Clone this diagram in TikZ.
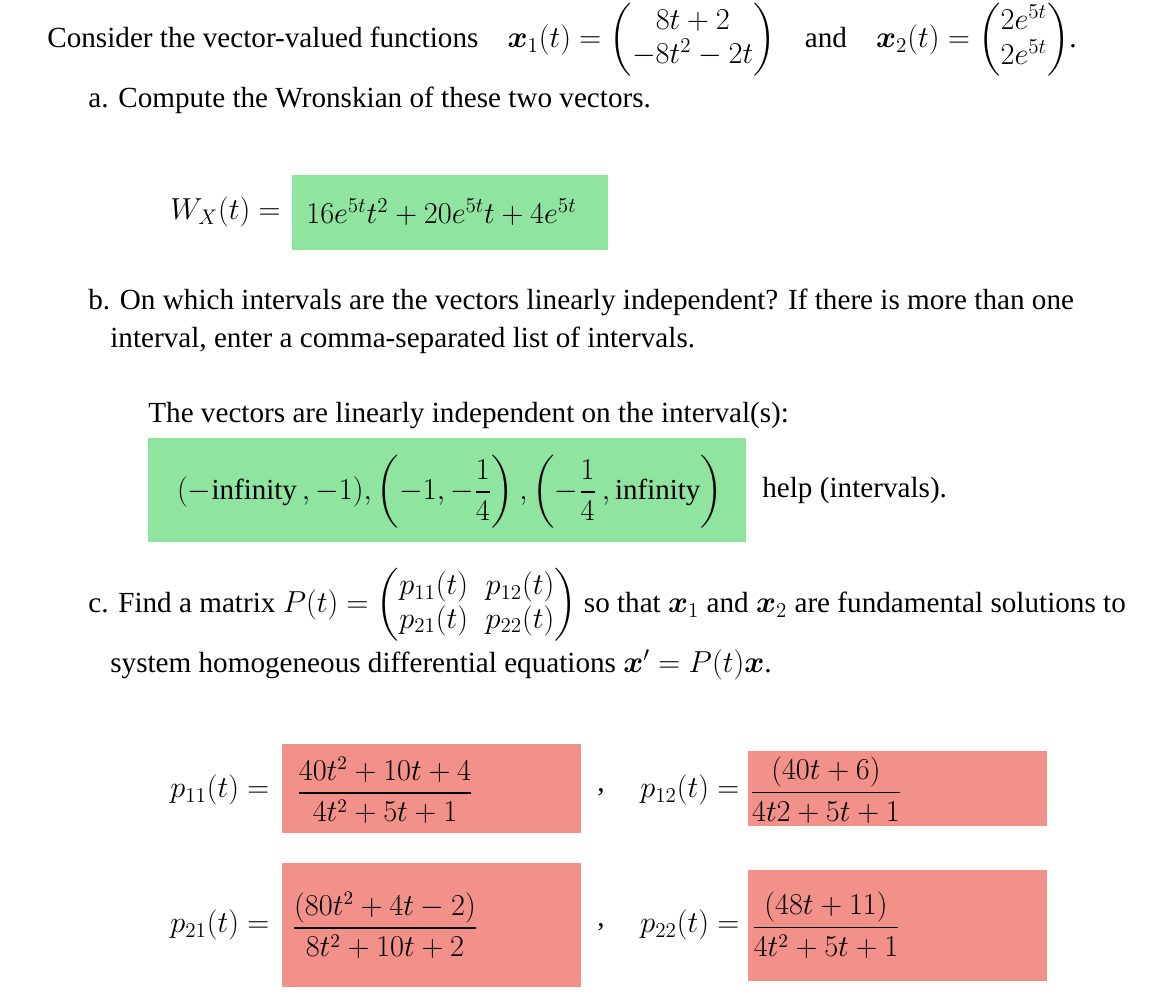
\documentclass[tikz,border=0pt]{standalone}
\usepackage{amsmath}
\usepackage{fontspec}
\setmainfont{Liberation Serif}
\definecolor{okgreen}{HTML}{8FE4A0}
\definecolor{badred}{HTML}{F2918A}
\begin{document}
\begin{tikzpicture}[x=0.02cm,y=-0.02cm,
  txt/.style={anchor=west,inner sep=0pt,font=\fontsize{16.6}{19}\selectfont},
  ans/.style={inner sep=0pt,font=\fontsize{16}{19}\selectfont}]
\useasboundingbox (0,0) rectangle (1150,1007);
\node[txt] (intro) at (47,40) {Consider the vector-valued functions\quad $\boldsymbol{x}_1(t)=\begin{pmatrix}8t+2\\-8t^2-2t\end{pmatrix}$\quad and\quad $\boldsymbol{x}_2(t)=\begin{pmatrix}2e^{5t}\\2e^{5t}\end{pmatrix}$.};
\node[txt] (qa) at (88,100) {a. Compute the Wronskian of these two vectors.};
\node[txt] (wl) at (170,212) {$W_X(t)=$};
\fill[okgreen] (292,175) rectangle (608,250);
\node[ans,anchor=west,font=\fontsize{17}{19}\selectfont] (wa) at (306,212) {$16e^{5t}t^2+20e^{5t}t+4e^{5t}$};
\node[txt] (qb1) at (88,302) {b. On which intervals are the vectors linearly independent? If there is more than one};
\node[txt] (qb2) at (110,340) {interval, enter a comma-separated list of intervals.};
\node[txt] (qb3) at (148,416) {The vectors are linearly independent on the interval(s):};
\fill[okgreen] (148,438) rectangle (746,542);
\node[ans,font=\fontsize{16.5}{19}\selectfont] (ba) at (450,492) {$(-\mathrm{infinity}\,,-1),\left(-1,-\dfrac{1}{4}\right),\left(-\dfrac{1}{4}\,,\mathrm{infinity}\right)$};
\node[txt] (help) at (762,490) {help (intervals).};
\node[txt] (qc1) at (88,605) {c. Find a matrix $P(t)=\begin{pmatrix}p_{11}(t)&p_{12}(t)\\p_{21}(t)&p_{22}(t)\end{pmatrix}$ so that $\boldsymbol{x}_1$ and $\boldsymbol{x}_2$ are fundamental solutions to};
\node[txt] (qc2) at (110,665) {system homogeneous differential equations $\boldsymbol{x}'=P(t)\boldsymbol{x}$.};
\fill[badred] (282,744) rectangle (581,833);
\fill[badred] (748,751) rectangle (1047,826);
\fill[badred] (282,863) rectangle (581,987);
\fill[badred] (748,870) rectangle (1047,981);
\node[txt] (l11) at (170,790) {$p_{11}(t)=$};
\node[ans] (a11) at (385,790) {$\dfrac{40t^2+10t+4}{4t^2+5t+1}$};
\node[txt] (c1) at (597,792) {,};
\node[txt] (l12) at (640,790) {$p_{12}(t)=$};
\node[ans] (a12) at (826,790) {$\dfrac{(40t+6)}{4t2+5t+1}$};
\node[txt] (l21) at (170,925) {$p_{21}(t)=$};
\node[ans] (a21) at (385,925) {$\dfrac{\left(80t^2+4t-2\right)}{8t^2+10t+2}$};
\node[txt] (c2) at (597,927) {,};
\node[txt] (l22) at (640,925) {$p_{22}(t)=$};
\node[ans] (a22) at (826,925) {$\dfrac{(48t+11)}{4t^2+5t+1}$};
\end{tikzpicture}
\end{document}
